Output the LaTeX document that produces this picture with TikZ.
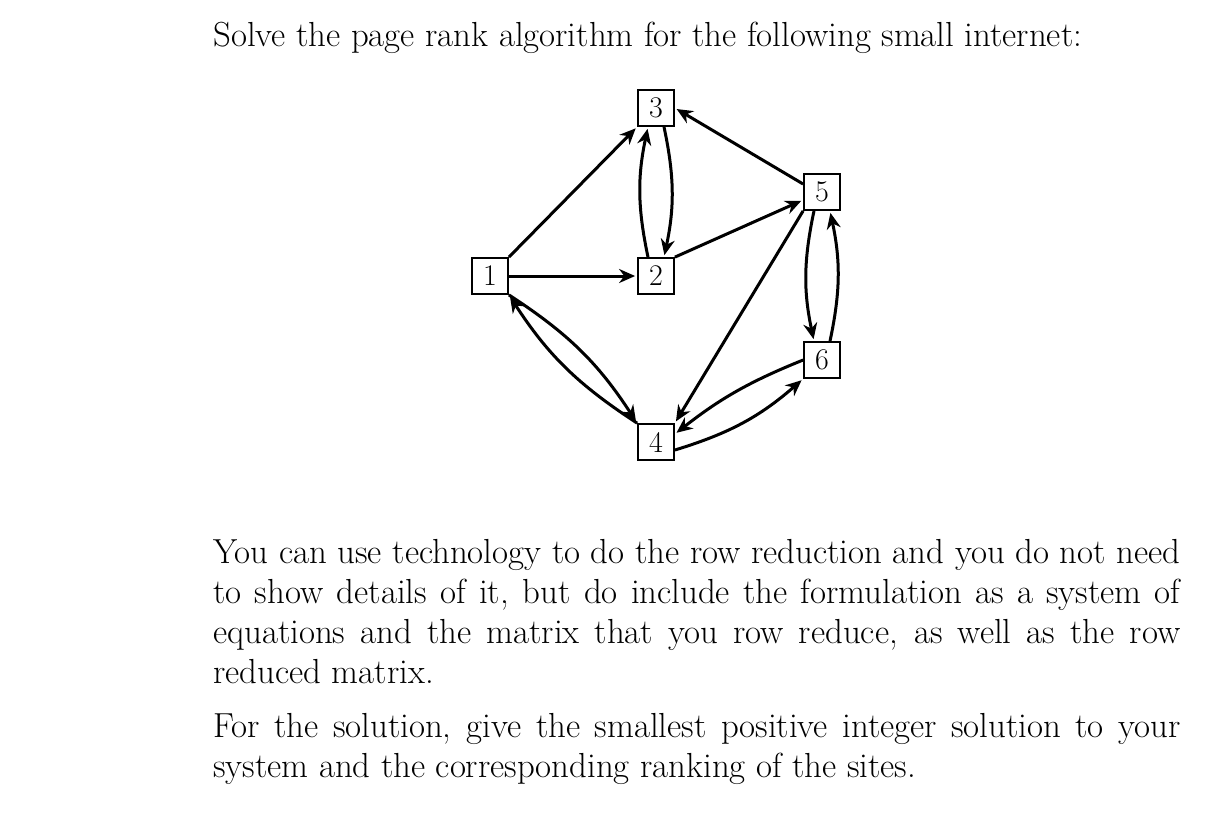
\documentclass[tikz,border=0pt]{standalone}
\usetikzlibrary{arrows.meta}
\begin{document}
\begin{tikzpicture}[x=0.5pt,y=-0.5pt,
  site/.style={draw,line width=0.9pt,minimum size=18pt,inner sep=0pt,font=\fontsize{15}{18}\selectfont},
  link/.style={line width=1.5pt,-{Stealth[length=8pt,width=7pt]},shorten >=1pt},
  body/.style={anchor=north west,inner sep=0pt,text width=483.5pt,align=justify,font=\fontsize{17.4}{20}\selectfont}]
\useasboundingbox (0,0) rectangle (1220,832);
\node[body] (t1) at (213,22) {Solve the page rank algorithm for the following small internet:};
\node (n1) [site] at (490,276) {1};
\node (n2) [site] at (656,276) {2};
\node (n3) [site] at (656,108) {3};
\node (n5) [site] at (822,192) {5};
\node (n6) [site] at (822,360) {6};
\node (n4) [site] at (656,442) {4};
\draw[link] (n1.north east) -- (n3.south west);
\draw[link] (n1) -- (n2);
\draw[link] (n1.south east) to[bend left=12] (n4.north west);
\draw[link] (n4.north west) to[bend left=12] (n1.south east);
\draw[link] ([xshift=4pt]n3.south) to[bend left=12] ([xshift=4pt]n2.north);
\draw[link] ([xshift=-4pt]n2.north) to[bend left=12] ([xshift=-4pt]n3.south);
\draw[link] (n2.north east) -- ([yshift=-4pt]n5.west);
\draw[link] ([yshift=4pt]n5.west) -- (n3.east);
\draw[link] (n5.south west) -- (n4.north east);
\draw[link] ([xshift=-4pt]n5.south) to[bend right=12] ([xshift=-4pt]n6.north);
\draw[link] ([xshift=4pt]n6.north) to[bend right=12] ([xshift=4pt]n5.south);
\draw[link] (n6.west) to[bend right=8] ([yshift=4pt]n4.east);
\draw[link] ([yshift=-4pt]n4.east) to[bend right=12] (n6.south west);
\node[body] (t2) at (213,539) {You can use technology to do the row reduction and you do not need to show details of it, but do include the formulation as a system of equations and the matrix that you row reduce, as well as the row reduced matrix.\par\vspace{7pt}For the solution, give the smallest positive integer solution to your system and the corresponding ranking of the sites.};
\end{tikzpicture}
\end{document}
